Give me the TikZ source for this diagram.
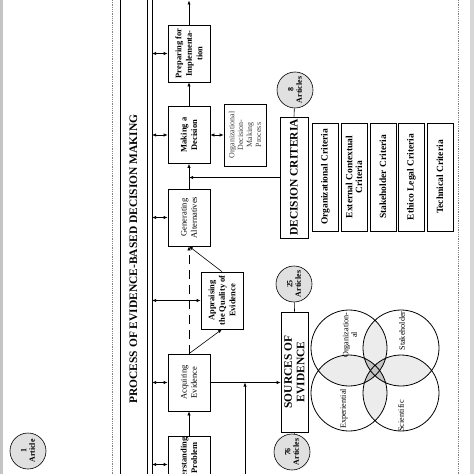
\documentclass[tikz,border=0pt]{standalone}
\usepackage{fontspec}
\setmainfont{Liberation Serif}
\usetikzlibrary{arrows.meta}
\definecolor{stripgray}{RGB}{196,196,196}
\definecolor{circgray}{RGB}{224,224,224}
\definecolor{lensgray}{RGB}{236,236,236}
\definecolor{coregray}{RGB}{196,196,196}
\tikzset{
  proc/.style={draw, rotate=90, align=center, minimum width=57bp, minimum height=42bp, inner sep=1bp, font=\fontsize{8.5}{10.5}\selectfont\bfseries},
  procreg/.style={proc, font=\fontsize{8.5}{10.5}\selectfont},
  head/.style={draw, rotate=90, align=center, minimum width=120bp, minimum height=27bp, inner sep=1bp, font=\fontsize{11.5}{12.5}\selectfont\bfseries},
  critbx/.style={draw, rotate=90, align=center, minimum width=108bp, minimum height=26bp, inner sep=1bp, font=\fontsize{9.5}{10}\selectfont\bfseries},
  count/.style={circle, draw, fill=circgray, minimum size=36bp, inner sep=0pt, rotate=90, align=center, font=\fontsize{8}{8.5}\selectfont\bfseries},
  venn/.style={rotate=90, align=center, font=\fontsize{8.2}{8.5}\selectfont},
  sep/.style={gray, dash pattern=on 1bp off 0.8bp, line width=0.6bp}
}
\begin{document}
\begin{tikzpicture}[x=1bp, y=-1bp, >={Latex[length=4bp,width=3.2bp]}, line width=0.6bp]
	\useasboundingbox (0,0) rectangle (474,474);
	\clip (0,0) rectangle (474,474);
	\fill[white] (0,0) rectangle (474,474);
	\fill[stripgray] (0,0) rectangle (3,474);
	\fill[stripgray!70] (470,0) rectangle (474,474);
	\draw[sep] (112,0) -- (112,474);
	\draw[sep] (458,0) -- (458,474);

	\draw (120,-5) rectangle (147,480);
	\node[rotate=90, font=\fontsize{11.5}{12}\selectfont\bfseries] (title) at (133.5,259) {PROCESS OF EVIDENCE-BASED DECISION MAKING};
	\coordinate (bus) at (152,-5);
	\coordinate (busend) at (152,480);
	\draw (bus) -- (busend);

	\node[proc] (prep) at (189,53.5) {Preparing for\\Implementa-\\tion};
	\node[proc] (decide) at (189,135) {Making a\\Decision};
	\node[procreg] (gener) at (189,217.5) {Generating\\Alternatives};
	\node[proc] (appr) at (222,300.5) {Appraising\\the Quality of\\Evidence};
	\node[procreg] (acq) at (189,382.5) {Acquiring\\Evidence};
	\node[proc] (under) at (189,464.5) {Understanding\\the Problem};
	\node[draw, rotate=90, align=center, minimum width=62bp, minimum height=42bp, inner sep=1bp, text=black!75, font=\fontsize{8}{9}\selectfont] (orgproc) at (245,135) {Organizational\\Decision-\\Making\\Process};

	\coordinate (exit) at (189,0.5);
	\draw[->] (prep.east) -- (exit);
	\draw[->] (decide.east) -- (prep.west);
	\draw[->] (gener.east) -- (decide.west);
	\draw[<->] (decide.south) -- (orgproc.north);
	\draw[->] (acq.east) -- (appr.west);
	\draw[->] (appr.east) -- (gener.west);
	\draw[->, dash pattern=on 9bp off 6bp] (acq.east) -- (gener.west);
	\draw[->] (under.east) -- (acq.west);
	\foreach \n in {prep,decide,gener,appr,acq,under}
		\draw[<->] (\n.north -| bus) -- (\n.north);

	\node[head, minimum width=121bp, minimum height=28bp] (critbox) at (294,177.5) {DECISION CRITERIA};
	\node[head] (srcbox) at (294.5,372) {SOURCES OF\\EVIDENCE};
	\draw[->] (critbox.north) -- (gener.east |- critbox.north);
	\draw[->] (acq.south) -- (acq.south -| srcbox.north);
	\coordinate (feed) at (245,480);
	\draw[->] (feed) -- (feed |- acq.south);

	\node[critbx] (orgcrit) at (325.5,177) {Organizational Criteria};
	\node[critbx] (extcrit) at (354,177) {External Contextual\\Criteria};
	\node[critbx] (stakecrit) at (383,177) {Stakeholder Criteria};
	\node[critbx] (ethcrit) at (411.5,177) {Ethico Legal Criteria};
	\node[critbx] (techcrit) at (440,177) {Technical Criteria};

	\node[count] (n1) at (28,451) {1\\Article};
	\node[count] (n8) at (295,90) {8\\Articles};
	\node[count] (n25) at (294,284) {25\\Articles};
	\node[count] (n76) at (292,452) {76\\Articles};
	\draw (n8) -- (critbox.east);
	\draw (n25) -- (srcbox.east);
	\draw (n76) -- (srcbox.west);

	\coordinate (vorg) at (349,348);
	\coordinate (vstake) at (401,348);
	\coordinate (vexp) at (349,393);
	\coordinate (vsci) at (401,393);
	\begin{scope}
		\clip (vorg) circle (38bp);
		\fill[lensgray] (vstake) circle (38bp) (vexp) circle (38bp);
	\end{scope}
	\begin{scope}
		\clip (vsci) circle (38bp);
		\fill[lensgray] (vstake) circle (38bp) (vexp) circle (38bp);
	\end{scope}
	\begin{scope}
		\clip (vorg) circle (38bp);
		\fill[coregray] (vsci) circle (38bp);
	\end{scope}
	\begin{scope}
		\clip (vstake) circle (38bp);
		\fill[coregray] (vexp) circle (38bp);
	\end{scope}
	\draw[line width=0.8bp] (vorg) circle (38bp) (vstake) circle (38bp) (vexp) circle (38bp) (vsci) circle (38bp);
	\node[venn] (lorg) at (350,335) {Organization-\\al};
	\node[venn] (lstake) at (402,331) {Stakeholder};
	\node[venn] (lexp) at (344,409) {Experiential};
	\node[venn] (lsci) at (401,416) {Scientific};
\end{tikzpicture}
\end{document}
